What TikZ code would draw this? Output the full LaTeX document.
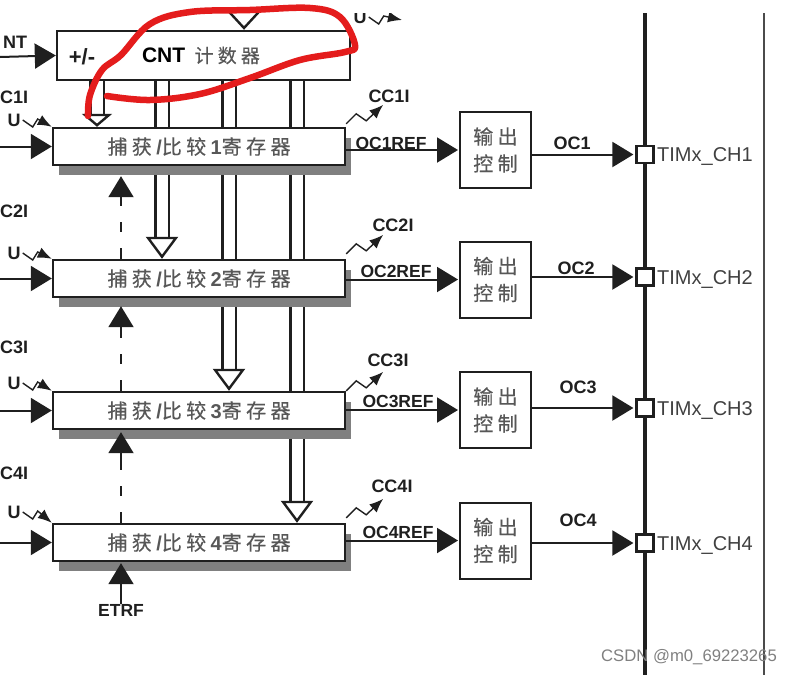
\documentclass[tikz,border=0pt]{standalone}
\usepackage{fontspec}
\setmainfont{Liberation Sans}
\newfontfamily\cjkreg[LetterSpace=22,FakeBold=0.25]{Noto Sans CJK SC}
\newfontfamily\cjkout[LetterSpace=22,FakeBold=0.25]{Noto Sans CJK SC}
\usetikzlibrary{arrows.meta}
\usetikzlibrary{backgrounds}
\usetikzlibrary{shadows}
\definecolor{scribble}{RGB}{228,28,28}
\definecolor{ink}{gray}{0.12}
\newcommand{\sz}[1]{\fontsize{#1}{#1}\selectfont}
\newcommand{\regtext}[1]{\sz{20}\color{ink!75}{\cjkreg 捕获}\textbf{/}{\cjkreg 比较}\textbf{#1}{\cjkreg 寄存器}}
\tikzset{sig/.style = {line width=2pt, draw=ink, -{Triangle[length=21pt, width=25pt]}},
         zig/.style = {line width=1.4pt, draw=ink, -{Latex[length=14pt, width=11pt]}},
         bus/.style = {line width=2.6pt, draw=ink, double=white, double distance=11pt,
                       -{Triangle[open, fill=white, length=22pt, width=40pt, line width=2.4pt]}},
         regbox/.style = {draw=ink, line width=2.4pt, fill=white, minimum width=292pt, minimum height=37pt,
                          inner sep=0pt, general shadow={fill=black!50, shadow xshift=6pt, shadow yshift=-10pt}},
         outbox/.style = {draw=ink, line width=2pt, fill=white, minimum width=71pt, minimum height=76pt,
                          inner sep=0pt, align=center, text=ink!75, font=\sz{20}\cjkout},
         pin/.style = {draw=ink, line width=2.2pt, fill=white, minimum size=17pt, inner sep=0pt},
         lab/.style = {font=\sz{18}\bfseries, text=ink, inner sep=0pt},
         chlab/.style = {font=\sz{20}, text=ink!85, inner sep=0pt, anchor=west}}

\begin{document}
\begin{tikzpicture}[x=1pt, y=-1pt]
  \useasboundingbox (0, 0) rectangle (792, 675);
  % counter and registers
  \node [draw=ink, line width=2.4pt, fill=white, minimum width=293pt, minimum height=49pt, inner sep=0pt]
        (cnt) at (203.5, 55.5) {\hspace{-5pt}\sz{21}\textbf{CNT} \,{\color{ink!75}\sz{19}\cjkreg 计数器}};
  \node [lab, font=\sz{22}\bfseries] (updown) at (82, 57) {+/-};
  \foreach \i/\ry/\by/\py in {1/146.5/150/154.5, 2/278.5/279.5/277, 3/410.5/410/408, 4/542.5/540.5/543} {
    \node [regbox] (reg\i) at (199, \ry) {\regtext{\i}};
    \node [outbox] (box\i) at (495.5, \by) {输出\\[7pt]控制};
    \node [pin] (pin\i) at (645, \py) {};
    \node [chlab] (ch\i) at ([yshift=-2pt]657, \py) {TIMx\_CH\i};
  }
  % rails
  \begin{scope}[on background layer]
    \coordinate (railtop) at (645, 0);
    \coordinate (railend) at (764, 675);
    \draw [line width=3.2pt, draw=ink] (railtop) -- (railtop |- railend);
    \draw [line width=2.2pt, draw=ink!80] (railtop -| railend) -- (railend);
    % buses leaving the counter
    \foreach \i/\x/\hd/\wd in {1/97/13/30, 2/162/22/32, 3/229/22/32, 4/297/22/32} {
      \coordinate (bus\i) at (\x, 0);
      \draw [bus, -{Triangle[open, fill=white, length=\hd pt, width=\wd pt, line width=2.4pt]}]
            (bus\i |- cnt.south) -- (bus\i |- reg\i.north);
    }
    \coordinate (bustop) at (244, -10);
    \draw [bus] (bustop) -- (bustop |- cnt.north);
  \end{scope}
  % inputs and outputs of each channel
  \foreach \i/\ry/\zy in {1/146.5/-3, 2/278.5/-5, 3/410.5/0, 4/542.5/-5} {
    \coordinate (in\i) at (0, \ry);
    \draw [sig] (in\i) -- (reg\i.west);
    \draw [sig, shorten >=1pt] (reg\i.east |- box\i.west) -- (box\i.west);
    \draw [sig, shorten >=2pt] (box\i.east |- pin\i.west) -- (pin\i.west);
    \draw [zig] (reg\i.north east) ++(0, \zy) -- ++(10, -10) -- ++(10, 7) -- ++(17, -16);
  }
  \coordinate (cntin) at (0, 57);
  \draw [sig] (cntin) -- (cnt.west);
  % input labels
  \foreach \t/\ux/\uy/\cy/\r in {1/14/120/97/reg1, 2/14/253/211/reg2, 3/14/383/347/reg3, 4/14/512/473/reg4} {
    \node [lab, anchor=west] (cin\t) at (0, \cy) {C\t I};
    \node [lab] (u\t) at (\ux, \uy) {U};
    \draw [zig] (u\t.east) ++(2, 0) -- ++(10, 7) -- ++(5, -8) -- (\r.north west);
  }
  \node [lab, anchor=west] (cntlab) at (3, 42) {NT};
  \node [lab] (utop) at (360, 17) {U};
  \coordinate (utip) at (402, 20);
  \draw [zig] (utop.east) ++(2, 0) -- ++(10, 7) -- ++(5, -8) -- (utip);
  % trigger line
  \node [lab, font=\sz{17.5}\bfseries] (etrf) at (121, 610) {ETRF};
  \draw [sig, shorten >=1pt] (etrf) -- (etrf |- reg4.south);
  \foreach \a/\b/\s in {4/3/2, 3/2/8, 2/1/10} {
    \draw [sig, shorten >=\s pt, dash pattern=on 11pt off 16pt on 10pt off 16pt on 80pt]
          (etrf |- reg\a.north) -- (etrf |- reg\b.south);
  }
  % signal names
  \foreach \t/\x/\y in {1/389/96, 2/393/225, 3/388/360, 4/392/486} {
    \node [lab] (cc\t) at (\x, \y) {CC\t I};
  }
  \foreach \t/\x/\y in {1/391/143, 2/396/271, 3/398/401, 4/398/532} {
    \node [lab, font=\sz{17.5}\bfseries] (ref\t) at (\x, \y) {OC\t REF};
  }
  \foreach \t/\x/\y in {1/572/143, 2/576/268, 3/578/387, 4/578/520} {
    \node [lab] (oc\t) at (\x, \y) {OC\t};
  }
  % page top is cut off
  \fill [white] (0, 0) rectangle (792, 13);
  \node [text=black!50, font=\sz{16.7}, inner sep=0pt] (mark) at (689, 657) {CSDN @m0\_69223265};
  % hand drawn mark
  \draw [scribble, line width=6.5pt, line cap=round, line join=round]
        plot [smooth, tension=0.6] coordinates {(88, 116) (90, 95) (102, 70) (121, 55) (150, 24) (190, 12)
        (250, 10) (310, 8) (340, 17) (355, 45) (345, 52) (300, 60) (250, 78) (200, 94) (150, 100) (107, 96)};
\end{tikzpicture}
\end{document}
